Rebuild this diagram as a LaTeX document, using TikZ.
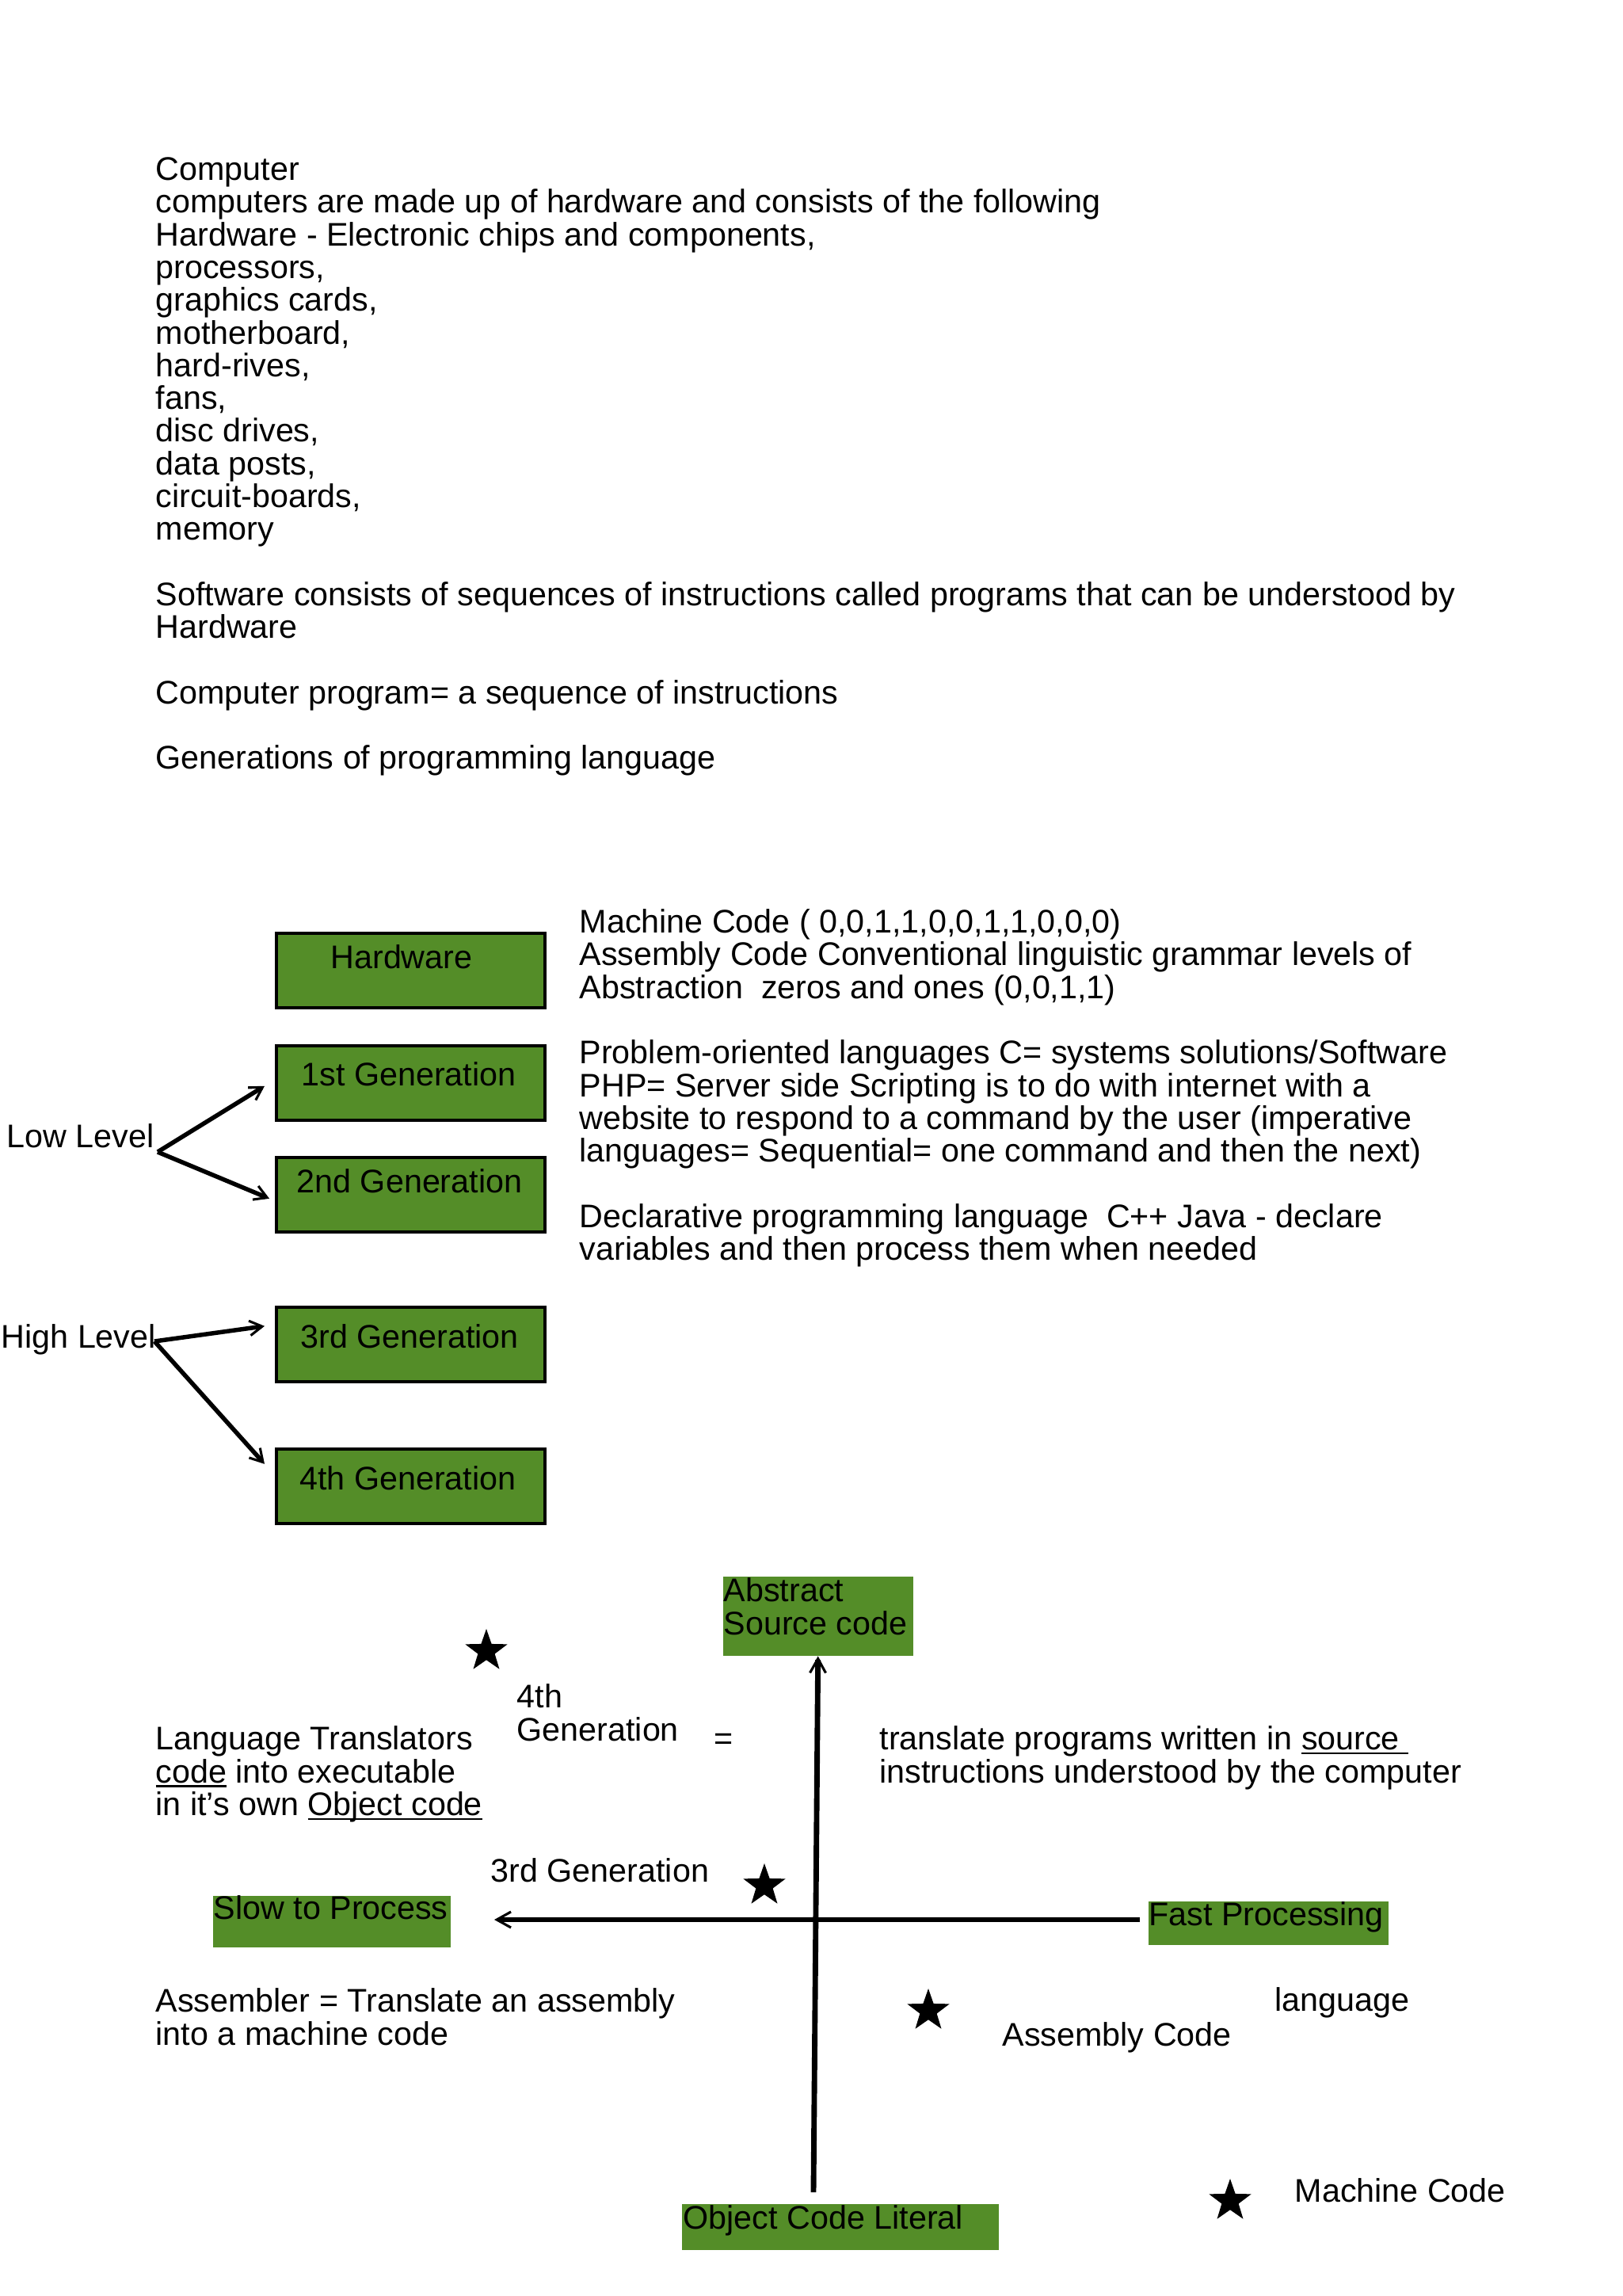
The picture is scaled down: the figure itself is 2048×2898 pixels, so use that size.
\documentclass[tikz,border=0pt]{standalone}
\usepackage{fontspec}
\setmainfont{Liberation Sans}
\usetikzlibrary{arrows.meta,shapes.geometric,calc}
\definecolor{gr}{RGB}{84,141,40}
\newcommand{\myul}[1]{\setbox0=\hbox{#1}\rlap{\vrule width\wd0 height -1.0pt depth 1.6pt}\box0\relax}
\newcommand{\sx}{\rule{0pt}{10pt}}
\begin{document}
\begin{tikzpicture}[x=0.29066pt,y=-0.29066pt,
  txt/.style={font=\fontsize{12pt}{12pt}\selectfont, inner sep=0pt, anchor=base west, align=left},
  mtxt/.style={font=\fontsize{12pt}{12pt}\selectfont, inner sep=0pt, anchor=north west, align=left, yshift=10pt},
  btxt/.style={font=\fontsize{12pt}{12pt}\selectfont, inner sep=0pt, anchor=base},
  gbox/.style={draw=black, line width=1.16pt, fill=gr, inner sep=0pt, anchor=north west,
    minimum width=98.5pt, minimum height=27.2pt},
  flat/.style={fill=gr, inner sep=0pt, anchor=north west},
  starn/.style={star, star points=5, star point ratio=2.5, fill=black, inner sep=0pt, minimum size=16.3pt},
  arrL/.style={line width=1.6pt, -{Straight Barb[length=4.6pt,width=5.4pt,line width=0.9pt]}},
  arrQ/.style={line width=2pt, -{Straight Barb[length=5.2pt,width=5.8pt,line width=0.9pt]}}]
\fill[white] (0,0) rectangle (2048,2898);
\useasboundingbox (0,0) rectangle (2048,2898);

% top text
\node[mtxt] (intro) at (196,227) {\sx Computer\\
computers are made up of hardware and consists of the following\\
Hardware - Electronic chips and components,\\
processors,\\
graphics cards,\\
motherboard,\\
hard-rives,\\
fans,\\
disc drives,\\
data posts,\\
circuit-boards,\\
memory\\[12pt]
Software consists of sequences of instructions called programs that can be understood by\\
Hardware\\[12pt]
Computer program= a sequence of instructions\\[12pt]
Generations of programming language};

% boxes
\node[gbox] (hw) at (347,1176) {};
\node[gbox] (g1) at (347,1318) {};
\node[gbox] (g2) at (347,1459) {};
\node[gbox] (g3) at (347,1648) {};
\node[gbox] (g4) at (347,1827) {};
\node[btxt] (hwt) at (507,1222) {Hardware};
\node[btxt] (g1t) at (516,1370) {1st Generation};
\node[btxt] (g2t) at (517,1505) {2nd Generation};
\node[btxt] (g3t) at (517,1701) {3rd Generation};
\node[btxt] (g4t) at (515,1880) {4th Generation};

\node[txt] (low) at (8,1448) {Low Level};
\node[txt] (high) at (1,1701) {High Level};
\coordinate (lowsrc) at (199,1454);
\coordinate (highsrc) at (195,1693);
\draw[arrL] (lowsrc) -- ($(g1.west)+(-13,4)$);
\draw[arrL] (lowsrc) -- ($(g2.west)+(-7,5)$);
\draw[arrL] (highsrc) -- ($(g3.west)+(-13,-23)$);
\draw[arrL] (highsrc) -- ($(g4.west)+(-13,-28)$);

% right text
\node[mtxt] (gens) at (731,1177) {\sx Machine Code ( 0,0,1,1,0,0,1,1,0,0,0)\\
Assembly Code Conventional linguistic grammar levels of\\
Abstraction\ \ zeros and ones (0,0,1,1)\\[12pt]
Problem-oriented languages C= systems solutions/Software\\
PHP= Server side Scripting is to do with internet with a\\
website to respond to a command by the user (imperative\\
languages= Sequential= one command and then the next)\\[12pt]
Declarative programming language\ \ C++ Java - declare\\
variables and then process them when needed};

% quadrant boxes
\node[flat, minimum width={240*0.29066pt}, minimum height={100*0.29066pt}] (abs) at (912,1989) {};
\node[mtxt] (abst) at (913,2021) {\sx Abstract\\Source code};
\node[flat, minimum width={300*0.29066pt}, minimum height={65*0.29066pt}] (slow) at (268,2392) {};
\node[txt] (slowt) at (269,2422) {Slow to Process};
\node[flat, minimum width={303*0.29066pt}, minimum height={55*0.29066pt}] (fast) at (1449,2399) {};
\node[txt] (fastt) at (1450,2430) {Fast Processing};
\node[flat, minimum width={400*0.29066pt}, minimum height={58*0.29066pt}] (obj) at (860,2781) {};
\node[txt] (objt) at (862,2813) {Object Code Literal};

% axes
\coordinate (vbot) at (1027,2767);
\draw[arrQ] (vbot) -- (abs.south);
\coordinate (hR) at (1439,2423);
\coordinate (hL) at (624,2423);
\draw[arrQ] (hR) -- (hL);

% stars
\node[starn] (s1) at (614,2084) {};
\node[starn] (s2) at (965,2380) {};
\node[starn] (s3) at (1172,2538) {};
\node[starn] (s4) at (1553,2778) {};

% quadrant texts
\node[mtxt] (fourth) at (652,2155) {\sx 4th\\Generation};
\node[txt] (eq) at (901,2208) {=};
\node[mtxt] (lt) at (196,2208) {\sx Language Translators\\
\myul{code} into executable\\
in it’s own \myul{Object code}};
\node[mtxt] (tr) at (1110,2208) {\sx translate programs written in \myul{source\ }\\
instructions understood by the computer};
\node[txt] (third) at (619,2375) {3rd Generation};
\node[mtxt] (asm) at (196,2539) {\sx Assembler = Translate an assembly\\into a machine code};
\node[txt] (lang) at (1609,2538) {language};
\node[txt] (asmc) at (1265,2582) {Assembly Code};
\node[txt] (mach) at (1634,2779) {Machine Code};
\end{tikzpicture}
\end{document}
